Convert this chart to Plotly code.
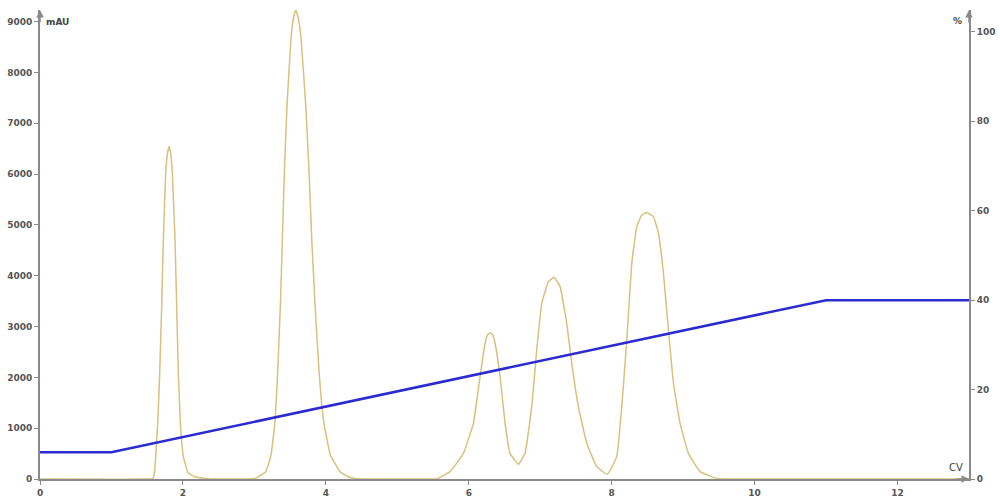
import plotly.graph_objects as go

# UV absorbance trace (mAU) vs column volumes (CV)
uv_cv = [0, 1.50, 1.58, 1.60, 1.619, 1.647, 1.675, 1.703, 1.726, 1.759, 1.785, 1.806, 1.828, 1.852, 1.889,
         1.913, 1.936, 1.964, 2.006, 2.076, 2.18, 2.29, 2.40, 2.90, 3.01, 3.159, 3.233, 3.289,
         3.326, 3.364, 3.392, 3.420, 3.457, 3.513, 3.548, 3.579, 3.612, 3.653, 3.718, 3.765, 3.802, 3.849,
         3.905, 3.970, 4.063, 4.199, 4.30, 4.409, 4.55, 5.40, 5.552, 5.738, 5.925, 6.065, 6.158,
         6.228, 6.262, 6.298, 6.333, 6.368, 6.438, 6.508, 6.578, 6.695, 6.788, 6.881, 6.951, 7.021, 7.114,
         7.194, 7.278, 7.371, 7.441, 7.534, 7.651, 7.791, 7.940, 8.071, 8.141, 8.211, 8.281,
         8.351, 8.421, 8.491, 8.584, 8.654, 8.724, 8.794, 8.864, 8.957, 9.074, 9.237, 9.470,
         9.60, 13.0]
uv_mau = [0, 0, 15, 112, 440, 1096, 2080, 3392, 4705, 6018, 6420, 6542, 6420, 6018, 4705,
          3392, 2080, 1096, 440, 112, 40, 15, 0, 0, 10, 144, 472, 1128,
          2112, 3425, 4738, 6049, 7362, 8675, 9080, 9232, 9080, 8675, 7362, 6049, 4738, 3425,
          2112, 1128, 472, 144, 50, 10, 0, 0, 0, 144, 505, 1096, 2014,
          2671, 2840, 2880, 2840, 2671, 2014, 1096, 505, 289, 505, 1424, 2539, 3458, 3884,
          3970, 3786, 3064, 2277, 1424, 702, 243, 92, 440, 1424, 2736, 4245,
          4967, 5197, 5243, 5164, 4836, 4049, 2933, 1884, 1096, 505, 144, 10,
          0, 0]

# Gradient (% B)
grad_cv = [0, 1, 11, 13]
grad_pct = [6, 6, 40, 40]

x_ticks = [0, 2, 4, 6, 8, 10, 12]
y_ticks = [0, 1000, 2000, 3000, 4000, 5000, 6000, 7000, 8000, 9000]
y2_ticks = [0, 20, 40, 60, 80, 100]

AXIS = "#8a8a8a"
TICKFONT = dict(family="DejaVu Sans", size=9, color="#555555", weight="bold")

fig = go.Figure()
fig.add_trace(go.Scatter(x=uv_cv, y=uv_mau, mode="lines",
                         line=dict(color="#d8c17c", width=1.5, shape="spline", smoothing=0.3),
                         hoverinfo="skip", showlegend=False))
fig.add_trace(go.Scatter(x=grad_cv, y=grad_pct, mode="lines", yaxis="y2",
                         line=dict(color="#2b2bd4", width=2.5),
                         hoverinfo="skip", showlegend=False))

fig.update_layout(
    width=1000, height=500,
    margin=dict(l=40, r=31, t=10, b=21),
    paper_bgcolor="white", plot_bgcolor="white",
    xaxis=dict(range=[0, 13], tickvals=x_ticks, showgrid=False, zeroline=False,
               showline=True, linecolor=AXIS, linewidth=2, ticks="outside", ticklen=4,
               tickcolor=AXIS, tickfont=TICKFONT, automargin=False),
    yaxis=dict(range=[0, 9230], tickvals=y_ticks, showgrid=False, zeroline=False,
               showline=True, linecolor=AXIS, linewidth=2, ticks="outside", ticklen=4,
               tickcolor=AXIS, tickfont=TICKFONT, ticklabelstandoff=0, automargin=False),
    yaxis2=dict(range=[0, 104.9], tickvals=y2_ticks, overlaying="y", side="right",
                showgrid=False, zeroline=False, showline=True, linecolor=AXIS, linewidth=2,
                ticks="outside", ticklen=4, tickcolor=AXIS, tickfont=TICKFONT,
                ticklabelstandoff=0, automargin=False),
)

# axis arrowheads
for (x, y, ax, ay) in [(0, 1, 0, 14), (1, 1, 0, 14), (1, 0, -14, 0)]:
    fig.add_annotation(x=x, y=y, xref="paper", yref="paper", ax=ax, ay=ay,
                       axref="pixel", ayref="pixel", showarrow=True, arrowhead=2,
                       arrowsize=1, arrowwidth=1.5, arrowcolor=AXIS, text="")

# axis titles
fig.add_annotation(x=0, y=1, xref="paper", yref="paper", xanchor="left", yanchor="top",
                   xshift=4, yshift=-5, text="mAU", showarrow=False,
                   font=dict(family="DejaVu Sans", size=9, color="#444444", weight="bold"))
fig.add_annotation(x=1, y=1, xref="paper", yref="paper", xanchor="right", yanchor="top",
                   xshift=-5, yshift=-4, text="%", showarrow=False,
                   font=dict(family="DejaVu Sans", size=9, color="#444444", weight="bold"))
fig.add_annotation(x=1, y=0, xref="paper", yref="paper", xanchor="right", yanchor="bottom",
                   xshift=-4, yshift=4, text="CV", showarrow=False,
                   font=dict(family="DejaVu Sans", size=10, color="#444444"))

# remove the default page margin so the 1000x500 figure fills the window exactly
fig.write_html("out.html", config={"displayModeBar": False},
               post_script="document.body.style.margin='0';document.body.style.overflow='hidden';")
